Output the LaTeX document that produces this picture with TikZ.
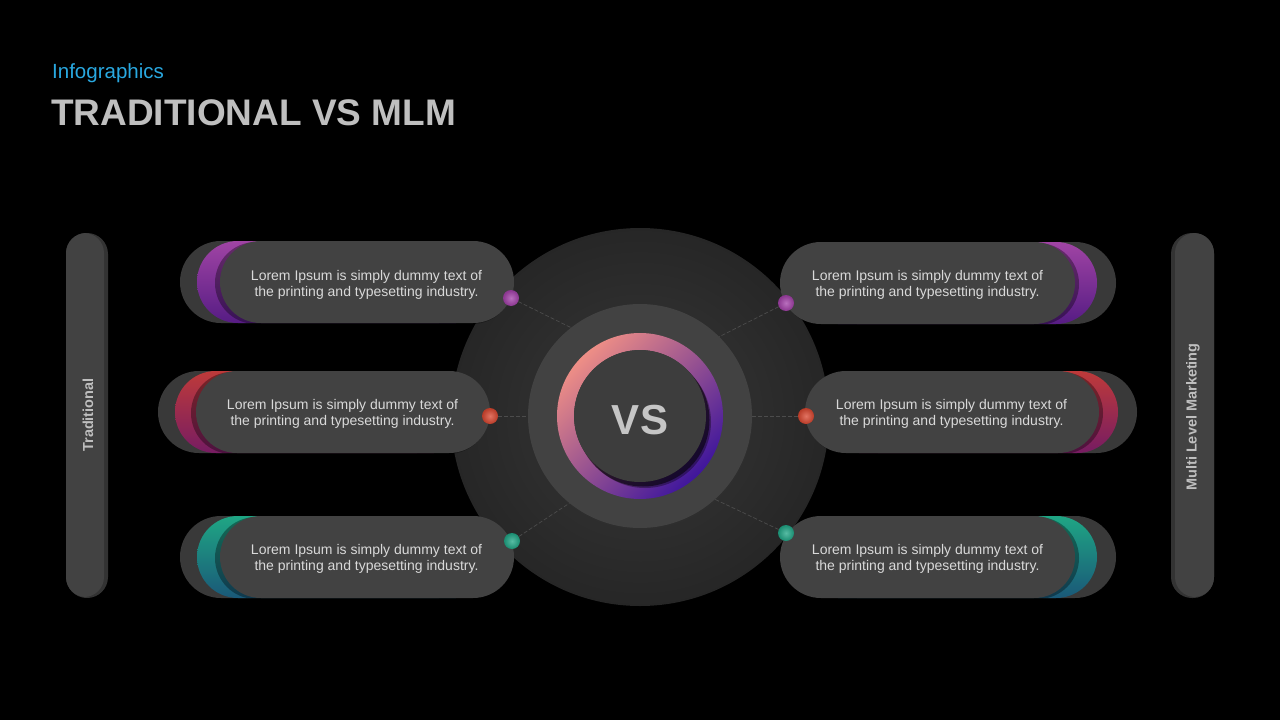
\documentclass[tikz,border=0pt]{standalone}
\usepackage{fontspec}
\setmainfont{Liberation Sans}
\usetikzlibrary{shapes.misc,shadings}
\definecolor{bgc}{HTML}{000000}
\definecolor{pillc}{HTML}{424242}
\definecolor{backc}{HTML}{393939}
\definecolor{loremc}{HTML}{D9D9D9}
\definecolor{titlec}{HTML}{BFBFBF}
\definecolor{infoc}{HTML}{29A8E0}
\definecolor{connc}{HTML}{4C4C4C}
\definecolor{purT}{HTML}{A044A4}
\definecolor{purB}{HTML}{561C84}
\definecolor{redT}{HTML}{BE3A3A}
\definecolor{redB}{HTML}{761C62}
\definecolor{tealT}{HTML}{1FA684}
\definecolor{tealB}{HTML}{1A5878}
\definecolor{dotP}{HTML}{A23FA8}
\definecolor{dotR}{HTML}{D8452E}
\definecolor{dotT}{HTML}{1FA585}
\definecolor{ringA}{HTML}{EE8E86}
\definecolor{ringM}{HTML}{A952A6}
\definecolor{ringB}{HTML}{3F169C}
\begin{document}
\begin{tikzpicture}[x=1pt,y=-1pt,
  backpill/.style={fill=backc, rounded corners=40.9},
  mainpill/.style={fill=pillc, rounded corners=40.9},
  shadowpill/.style={fill=black, opacity=.35, rounded corners=40.9},
  lorem/.style={text=loremc, font=\fontsize{14}{16.5}\selectfont, align=center, inner sep=0},
  dotnode/.style={circle, minimum size=16, inner sep=0, shading=radial, inner color=#1!75!white, outer color=#1!85!black},
  conn/.style={draw=connc, line width=0.7, dash pattern=on 4pt off 2pt},
  sidetext/.style={text=titlec, font=\bfseries\fontsize{14.5}{17}\selectfont, rotate=90, inner sep=0}]
% background
\fill[bgc] (0,0) rectangle (1280,720);
\useasboundingbox (0,0) rectangle (1280,720);
% titles
\node[anchor=base west, inner sep=0, text=infoc, font=\fontsize{20.5}{24}\selectfont] (info) at (52,78) {Infographics};
\node[anchor=base west, inner sep=0, text=titlec, font=\bfseries\fontsize{37}{44}\selectfont] (title) at (51,125) {TRADITIONAL VS MLM};
% side bars
\fill[fill=black!80!white, rounded corners=21] (66,233) rectangle (108,598);
\fill[fill=pillc, rounded corners=20] (66,233) rectangle (104,597);
\node[sidetext] (lt) at (88,415) {Traditional};
\fill[fill=black!80!white, rounded corners=21] (1171,233) rectangle (1214,598);
\fill[fill=pillc, rounded corners=20] (1175,233) rectangle (1214,597);
\node[sidetext] (rt) at (1193,417) {Multi Level Marketing};
% big circle
\shade[inner color=black!78!white, outer color=black!85!white] (640,417) circle[radius=189];
\node[circle, minimum size=224, inner sep=0, fill=pillc] (mid) at (640,416) {};
% ring
\shade[even odd rule, top color=ringA, middle color=ringM, bottom color=ringB, shading angle=45]
  (640,416) circle[radius=83] (640,416) circle[radius=66];
\fill[black, opacity=.55] (643,420) circle[radius=66.5];
\fill[black, opacity=.35] (645,422) circle[radius=66];
\node[circle, minimum size=132, inner sep=0, fill=black!76!white] (inner) at (640,416) {};
\node[text=titlec!90!white, font=\bfseries\fontsize{42}{48}\selectfont, inner sep=0] (vs) at (640,420) {VS};
% ---- left pills ----
% row 1
\fill[backpill] (180,241) rectangle (480,323);
\shade[top color=purT, bottom color=purB, rounded corners=40.9] (197,241) rectangle (497,323);
\fill[shadowpill] (215,242) rectangle (513,324);
\fill[mainpill] (220,241) rectangle (514,323);
% row 2
\fill[backpill] (158,371) rectangle (458,453);
\shade[top color=redT, bottom color=redB, rounded corners=40.9] (175,371) rectangle (475,453);
\fill[shadowpill] (191,372) rectangle (489,454);
\fill[mainpill] (196,371) rectangle (490,453);
% row 3
\fill[backpill] (180,516) rectangle (480,598);
\shade[top color=tealT, bottom color=tealB, rounded corners=40.9] (197,516) rectangle (497,598);
\fill[shadowpill] (215,517) rectangle (513,599);
\fill[mainpill] (220,516) rectangle (514,598);
% ---- right pills ----
% row 1
\fill[backpill] (816,242) rectangle (1116,324);
\shade[top color=purT, bottom color=purB, rounded corners=40.9] (797,242) rectangle (1097,324);
\fill[shadowpill] (781,243) rectangle (1079,325);
\fill[mainpill] (780,242) rectangle (1075,324);
% row 2
\fill[backpill] (837,371) rectangle (1137,453);
\shade[top color=redT, bottom color=redB, rounded corners=40.9] (818,371) rectangle (1118,453);
\fill[shadowpill] (806,372) rectangle (1103,454);
\fill[mainpill] (805,371) rectangle (1099,453);
% row 3
\fill[backpill] (816,516) rectangle (1116,598);
\shade[top color=tealT, bottom color=tealB, rounded corners=40.9] (797,516) rectangle (1097,598);
\fill[shadowpill] (781,517) rectangle (1079,599);
\fill[mainpill] (780,516) rectangle (1075,598);
% texts
\node[lorem] (t1) at (366.5,285) {Lorem Ipsum is simply dummy text of\\the printing and typesetting industry.};
\node[lorem] (t2) at (342.5,414) {Lorem Ipsum is simply dummy text of\\the printing and typesetting industry.};
\node[lorem] (t3) at (366.5,559) {Lorem Ipsum is simply dummy text of\\the printing and typesetting industry.};
\node[lorem] (t4) at (927.5,285) {Lorem Ipsum is simply dummy text of\\the printing and typesetting industry.};
\node[lorem] (t5) at (951.5,414) {Lorem Ipsum is simply dummy text of\\the printing and typesetting industry.};
\node[lorem] (t6) at (927.5,559) {Lorem Ipsum is simply dummy text of\\the printing and typesetting industry.};
% dots
\node[dotnode=dotP] (d1) at (511,298) {};
\node[dotnode=dotR] (d2) at (490,416) {};
\node[dotnode=dotT] (d3) at (512,541) {};
\node[dotnode=dotP] (d4) at (786,303) {};
\node[dotnode=dotR] (d5) at (806,416) {};
\node[dotnode=dotT] (d6) at (786,533) {};
% connectors
\draw[conn] (d1) -- (mid.128);
\draw[conn] (d2) -- (mid.180);
\draw[conn] (d3) -- (mid.231);
\draw[conn] (d4) -- (mid.45);
\draw[conn] (d5) -- (mid.0);
\draw[conn] (d6) -- (mid.312);
\end{tikzpicture}
\end{document}
